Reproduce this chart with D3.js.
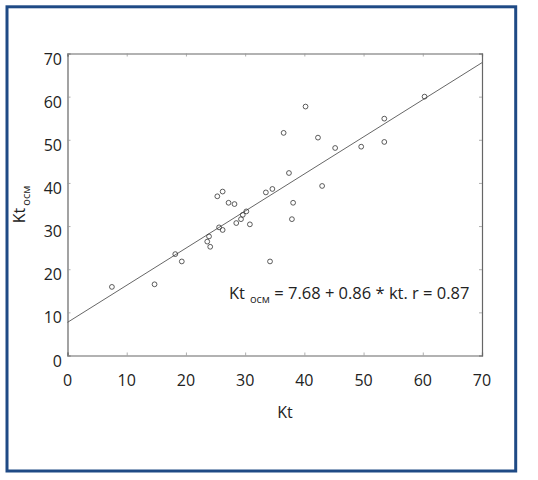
<!DOCTYPE html>
<html>
<head>
<meta charset="utf-8">
<script src="https://cdn.jsdelivr.net/npm/d3@7"></script>
<style>
  html, body { margin: 0; padding: 0; background: #ffffff; }
  svg { display: block; font-family: "Open Sans", "DejaVu Sans", sans-serif; }
</style>
</head>
<body>
<svg id="chart" width="538" height="480"></svg>
<script>
// Data
const ktValues    = [7.5, 14.7, 18.2, 19.3, 23.6, 23.9, 24.1, 25.3, 26.2, 25.6, 26.2, 27.2, 28.2, 28.5, 29.3, 29.6, 30.2, 30.8, 33.5, 34.6, 34.2, 36.5, 37.4, 38.1, 37.9, 40.2, 42.3, 43.0, 45.2, 49.6, 53.5, 53.5, 60.3];
const ktOsmValues = [15.9, 16.5, 23.5, 21.8, 26.4, 27.6, 25.2, 36.9, 38.0, 29.7, 29.1, 35.4, 35.1, 30.7, 31.6, 32.6, 33.4, 30.4, 37.8, 38.6, 21.8, 51.6, 42.3, 35.4, 31.6, 57.7, 50.5, 39.3, 48.1, 48.4, 54.9, 49.5, 60.0];
const xTicks = [0, 10, 20, 30, 40, 50, 60, 70];
const yTicks = [0, 10, 20, 30, 40, 50, 60, 70];
const regression = { intercept: 7.68, slope: 0.86, r: 0.87 };
const xLabel = "Kt";
const yLabelMain = "Kt";
const yLabelSub = "осм";

(function () {
const svg = d3.select("#chart");

// outer frame
svg.append("rect")
  .attr("x", 7).attr("y", 6.8)
  .attr("width", 508.7).attr("height", 464.2)
  .attr("fill", "none")
  .attr("stroke", "#1f4a85")
  .attr("stroke-width", 3);

const pLeft = 67.5, pRight = 482, pTop = 53.5, pBottom = 355.5;
const x = d3.scaleLinear().domain([0, 70]).range([pLeft, pRight]);
const y = d3.scaleLinear().domain([0, 70]).range([pBottom, pTop]);

const axisColor = "#666";

// axes (inward ticks)
const gB = svg.append("g").attr("transform", `translate(0,${pBottom})`)
  .call(d3.axisTop(x).tickValues(xTicks).tickSize(3).tickFormat(""));
const gT = svg.append("g").attr("transform", `translate(0,${pTop})`)
  .call(d3.axisBottom(x).tickValues(xTicks).tickSize(3).tickFormat(""));
const gL = svg.append("g").attr("transform", `translate(${pLeft},0)`)
  .call(d3.axisRight(y).tickValues(yTicks).tickSize(3).tickFormat(""));
const gR = svg.append("g").attr("transform", `translate(${pRight},0)`)
  .call(d3.axisLeft(y).tickValues(yTicks).tickSize(3).tickFormat(""));
[gB, gT, gL, gR].forEach(g => {
  g.selectAll("path.domain").attr("stroke", axisColor).attr("stroke-width", 1.2);
  g.selectAll(".tick line").attr("stroke", "#999").attr("stroke-width", 0.8);
});

// tick labels
svg.append("g").selectAll("text").data(xTicks).join("text")
  .attr("x", d => x(d)).attr("y", 386)
  .attr("text-anchor", "middle")
  .attr("font-size", 16).attr("fill", "#222")
  .text(d => d);
svg.append("g").selectAll("text").data(yTicks).join("text")
  .attr("x", 62).attr("y", d => y(d) + 11)
  .attr("text-anchor", "end")
  .attr("font-size", 16).attr("fill", "#222")
  .text(d => d);

// axis titles
svg.append("text")
  .attr("x", 285).attr("y", 418)
  .attr("text-anchor", "middle")
  .attr("font-size", 16).attr("fill", "#222")
  .text(xLabel);

const yl = svg.append("text")
  .attr("transform", `translate(25,${(pTop + pBottom) / 2}) rotate(-90)`)
  .attr("text-anchor", "middle")
  .attr("font-size", 16).attr("fill", "#222");
yl.append("tspan").text(yLabelMain);
yl.append("tspan").attr("dx", 2).attr("dy", 5).attr("font-size", 11).text(yLabelSub);

// regression line
const lineX = [0, 70];
svg.append("line")
  .attr("x1", x(lineX[0])).attr("y1", y(regression.intercept + regression.slope * lineX[0]))
  .attr("x2", x(lineX[1])).attr("y2", y(regression.intercept + regression.slope * lineX[1]))
  .attr("stroke", "#555").attr("stroke-width", 0.9);

// points
svg.append("g").selectAll("circle").data(ktValues.map((v, i) => [v, ktOsmValues[i]])).join("circle")
  .attr("cx", d => x(d[0])).attr("cy", d => y(d[1]))
  .attr("r", 2.4)
  .attr("fill", "none")
  .attr("stroke", "#333").attr("stroke-width", 0.8);

// equation
const eq = svg.append("text")
  .attr("x", 229).attr("y", 299)
  .attr("font-size", 16.5).attr("fill", "#222");
eq.append("tspan").text("Kt");
eq.append("tspan").attr("dx", 5).attr("dy", 4).attr("font-size", 11).text("осм");
eq.append("tspan").attr("dy", -4)
  .text(` = ${regression.intercept} + ${regression.slope} * kt. r = ${regression.r}`);
})();
</script>
</body>
</html>
